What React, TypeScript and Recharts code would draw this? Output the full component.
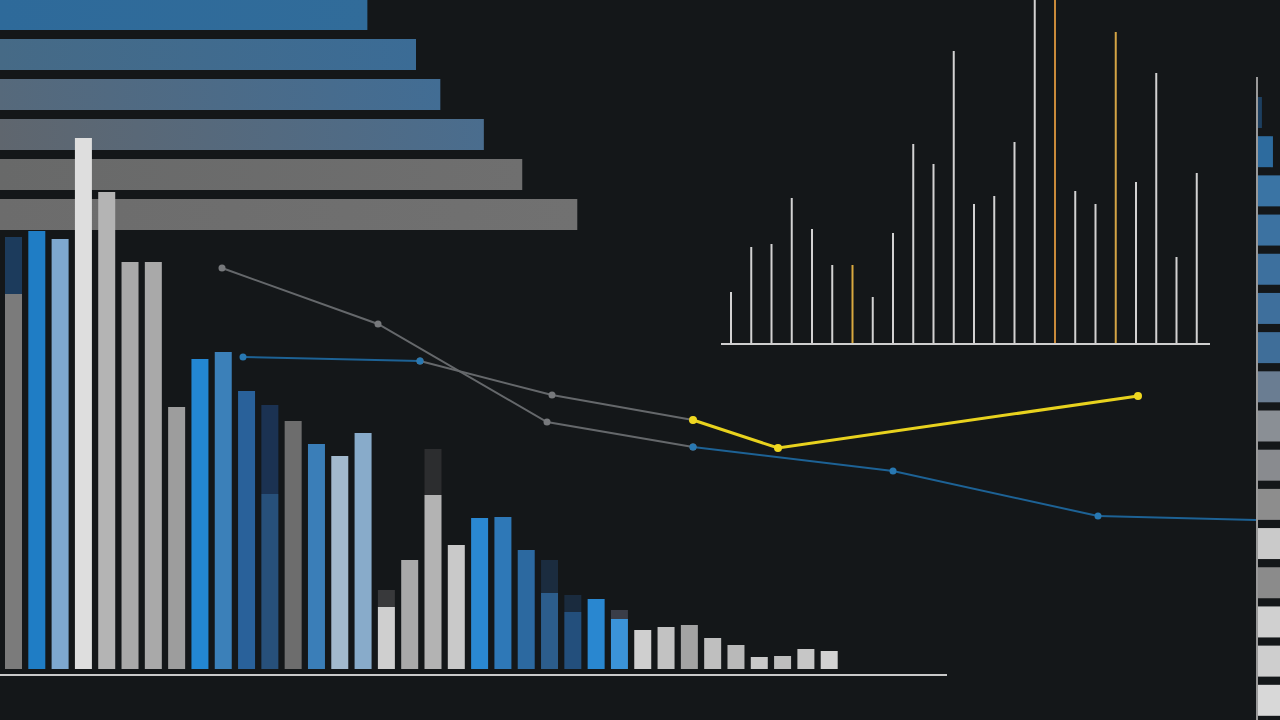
import React from "react";
import { BarChart, Bar, LineChart, Line, XAxis, YAxis, Cell } from "recharts";

// top-left horizontal bars
const rowNames = ["A", "B", "C", "D", "E", "F"];
const rowValues = [28.7, 32.5, 34.4, 37.8, 40.8, 45.1];
const rowFrom = ["#2e6a9a", "#466a86", "#56697b", "#5f666e", "#686969", "#6c6c6c"];
const rowTo = ["#316c9a", "#3b6c96", "#426d94", "#4a6d8e", "#6f6f6f", "#717171"];

// bottom-left columns
const colValues = [
  75, 87.6, 86, 106.2, 95.4, 81.4, 81.4, 52.4, 62, 63.4, 55.6, 35,
  49.6, 45, 42.6, 47.2, 12.4, 21.8, 34.8, 24.8, 30.2, 30.4, 23.8, 15.2,
  11.4, 14, 10, 7.8, 8.4, 8.8, 6.2, 4.8, 2.4, 2.6, 4, 3.6,
];
const colCaps = [
  11.4, 0, 0, 0, 0, 0, 0, 0, 0, 0, 0, 17.8,
  0, 0, 0, 0, 3.4, 0, 9.2, 0, 0, 0, 0, 6.6,
  3.4, 0, 1.8, 0, 0, 0, 0, 0, 0, 0, 0, 0,
];
const colColors = [
  "#7b7b7b", "#1f7dc5", "#7ea8cf", "#dedede", "#b4b4b4", "#a9a9a9", "#a9a9a9", "#9d9d9d", "#2387d3", "#3b80b9", "#29619a", "#27507a",
  "#6d6d6d", "#3a7eb8", "#a2b9cd", "#88abca", "#cfcfcf", "#a9a9a9", "#b3b3b3", "#c9c9c9", "#2a88d2", "#2e78b7", "#2c69a0", "#2c5d8c",
  "#234f7c", "#2987d0", "#3b93d8", "#cfcfcf", "#c2c2c2", "#a3a3a3", "#bfbfbf", "#b9b9b9", "#c9c9c9", "#bebebe", "#c6c6c6", "#d2d2d2",
];
const capColors = [
  "#1c3b5c", "", "", "", "", "", "", "", "", "", "", "#1b3252",
  "", "", "", "", "#38393b", "", "#2c2d2f", "", "", "", "", "#1b2c3f",
  "#1a2b3e", "", "#3a3d48", "", "", "", "", "", "", "", "", "",
];

// top-right stems
const stemValues = [
  26, 48.5, 50, 73, 57.5, 39.5, 39.5, 23.5, 55.5, 100, 90, 146.5,
  70, 74, 101, 172, 172, 76.5, 70, 156, 81, 135.5, 43.5, 85.5,
];
const stemColors = [
  "#d2d2d2", "#d2d2d2", "#d2d2d2", "#d2d2d2", "#d2d2d2", "#d2d2d2", "#d9a93f", "#d2d2d2", "#d2d2d2", "#d2d2d2", "#d2d2d2", "#d2d2d2",
  "#d2d2d2", "#d2d2d2", "#d2d2d2", "#d2d2d2", "#c98a3a", "#d2d2d2", "#d2d2d2", "#d4a445", "#d2d2d2", "#d2d2d2", "#d2d2d2", "#d2d2d2",
];

// right edge blocks
const blockValues = [1.7, 6.5, 10, 10, 10, 10, 10, 10, 10, 10, 10, 10, 10, 10, 10, 10];
const blockColors = [
  "#1d3f60", "#2d6b9e", "#3a74a4", "#3c72a1", "#3d709e", "#3e6f9c", "#3f6e99", "#6a7d92",
  "#8a8f95", "#898b8f", "#8d8d8d", "#cacaca", "#8b8b8b", "#d0d0d0", "#cecece", "#d8d8d8",
];

// lines
const grayAX = [11.1, 18.9, 27.35, 34.65];
const grayAY = [45.2, 39.6, 29.8, 27.3];
const blueAX = [34.65, 44.65, 54.9];
const blueAY = [27.3, 24.9, 20.4];
const blueTailX = [54.9, 62.8];
const blueTailY = [20.4, 20.0];
const blueBX = [12.15, 21.0];
const blueBY = [36.3, 35.9];
const grayBX = [21.0, 27.6, 34.65];
const grayBY = [35.9, 32.5, 30.0];
const yellowX = [34.65, 38.9, 56.9];
const yellowY = [30.0, 27.2, 32.4];

const zip = (xs: number[], ys: number[]) => xs.map((x, i) => ({ x, v: ys[i] }));

const rowData = rowNames.map((name, i) => ({ name, value: rowValues[i] }));
const colData = colValues.map((v, i) => ({ name: String(i + 1), base: v, cap: colCaps[i] }));
const stemData = stemValues.map((v, i) => ({ name: String(i + 1), value: v }));
const blockData = blockValues.map((v, i) => ({ name: String(i + 1), value: v }));

const abs = (left: number, top: number): React.CSSProperties => ({ position: "absolute", left, top });

export default function App() {
  return (
    <div
      style={{
        position: "fixed",
        left: 0,
        top: 0,
        width: 1280,
        height: 720,
        overflow: "hidden",
        background: "#141719",
      }}
    >
      <div style={abs(0, -6)}>
        <BarChart width={640} height={240} data={rowData} layout="vertical" margin={{ top: 0, right: 0, bottom: 0, left: 0 }}>
          <defs>
            {rowNames.map((n, i) => (
              <linearGradient key={n} id={`row${i}`} x1="0" y1="0" x2="1" y2="0">
                <stop offset="0%" stopColor={rowFrom[i]} />
                <stop offset="100%" stopColor={rowTo[i]} />
              </linearGradient>
            ))}
          </defs>
          <XAxis type="number" domain={[0, 50]} allowDataOverflow hide />
          <YAxis type="category" dataKey="name" hide />
          <Bar dataKey="value" barSize={31} isAnimationActive={false}>
            {rowData.map((d, i) => (
              <Cell key={d.name} fill={`url(#row${i})`} />
            ))}
          </Bar>
        </BarChart>
      </div>

      <div style={abs(0, 69)}>
        <BarChart width={947} height={607} data={colData} margin={{ top: 0, right: 0, bottom: 0, left: 0 }}>
          <XAxis
            dataKey="name"
            tick={false}
            tickLine={false}
            height={1}
            padding={{ left: 2, right: 106 }}
            axisLine={{ stroke: "#c9c9c9", strokeWidth: 2 }}
          />
          <YAxis type="number" domain={[-1.2, 120]} allowDataOverflow hide />
          <Bar dataKey="base" stackId="c" barSize={17} isAnimationActive={false}>
            {colData.map((d, i) => (
              <Cell key={d.name} fill={colColors[i]} />
            ))}
          </Bar>
          <Bar dataKey="cap" stackId="c" barSize={17} isAnimationActive={false}>
            {colData.map((d, i) => (
              <Cell key={d.name} fill={capColors[i] || "transparent"} />
            ))}
          </Bar>
        </BarChart>
      </div>

      <div style={abs(721, 0)}>
        <BarChart width={489} height={345} data={stemData} margin={{ top: 0, right: 0, bottom: 0, left: 0 }}>
          <XAxis
            dataKey="name"
            tick={false}
            tickLine={false}
            height={1}
            padding={{ left: 0, right: 3 }}
            axisLine={{ stroke: "#cfcfcf", strokeWidth: 2 }}
          />
          <YAxis type="number" domain={[0, 172]} allowDataOverflow hide />
          <Bar dataKey="value" barSize={2} isAnimationActive={false}>
            {stemData.map((d, i) => (
              <Cell key={d.name} fill={stemColors[i]} />
            ))}
          </Bar>
        </BarChart>
      </div>

      <div style={abs(0, 0)}>
        <LineChart width={1280} height={720} margin={{ top: 0, right: 0, bottom: 0, left: 0 }}>
          <XAxis type="number" dataKey="x" domain={[0, 64]} allowDataOverflow hide />
          <YAxis type="number" domain={[0, 72]} allowDataOverflow hide />
          <Line data={zip(grayBX, grayBY)} dataKey="v" type="linear" stroke="#65686b" strokeWidth={2} dot={{ r: 3.5, fill: "#77797c", stroke: "#77797c", strokeWidth: 0 }} activeDot={false} isAnimationActive={false} />
          <Line data={zip(grayAX, grayAY)} dataKey="v" type="linear" stroke="#65686b" strokeWidth={2} dot={{ r: 3.5, fill: "#77797c", stroke: "#77797c", strokeWidth: 0 }} activeDot={false} isAnimationActive={false} />
          <Line data={zip(blueTailX, blueTailY)} dataKey="v" type="linear" stroke="#1d6295" strokeWidth={2} dot={false} activeDot={false} isAnimationActive={false} />
          <Line data={zip(blueBX, blueBY)} dataKey="v" type="linear" stroke="#1d6295" strokeWidth={2} dot={{ r: 3.5, fill: "#2878b2", stroke: "#2878b2", strokeWidth: 0 }} activeDot={false} isAnimationActive={false} />
          <Line data={zip(blueAX, blueAY)} dataKey="v" type="linear" stroke="#1d6295" strokeWidth={2} dot={{ r: 3.5, fill: "#2878b2", stroke: "#2878b2", strokeWidth: 0 }} activeDot={false} isAnimationActive={false} />
          <Line data={zip(yellowX, yellowY)} dataKey="v" type="linear" stroke="#e8d21e" strokeWidth={3} dot={{ r: 4, fill: "#f0d820", stroke: "#f0d820", strokeWidth: 0 }} activeDot={false} isAnimationActive={false} />
        </LineChart>
      </div>

      <div style={abs(1255, 77)}>
        <BarChart width={26} height={643} data={blockData} layout="vertical" margin={{ top: 0, right: 0, bottom: 0, left: 0 }}>
          <XAxis type="number" domain={[0, 10]} allowDataOverflow padding={{ left: 1, right: 0 }} hide />
          <YAxis
            type="category"
            dataKey="name"
            width={2}
            tick={false}
            tickLine={false}
            padding={{ top: 16, bottom: 0 }}
            axisLine={{ stroke: "#9a9a9a", strokeWidth: 2 }}
          />
          <Bar dataKey="value" barSize={31} isAnimationActive={false}>
            {blockData.map((d, i) => (
              <Cell key={d.name} fill={blockColors[i]} />
            ))}
          </Bar>
        </BarChart>
      </div>
    </div>
  );
}
